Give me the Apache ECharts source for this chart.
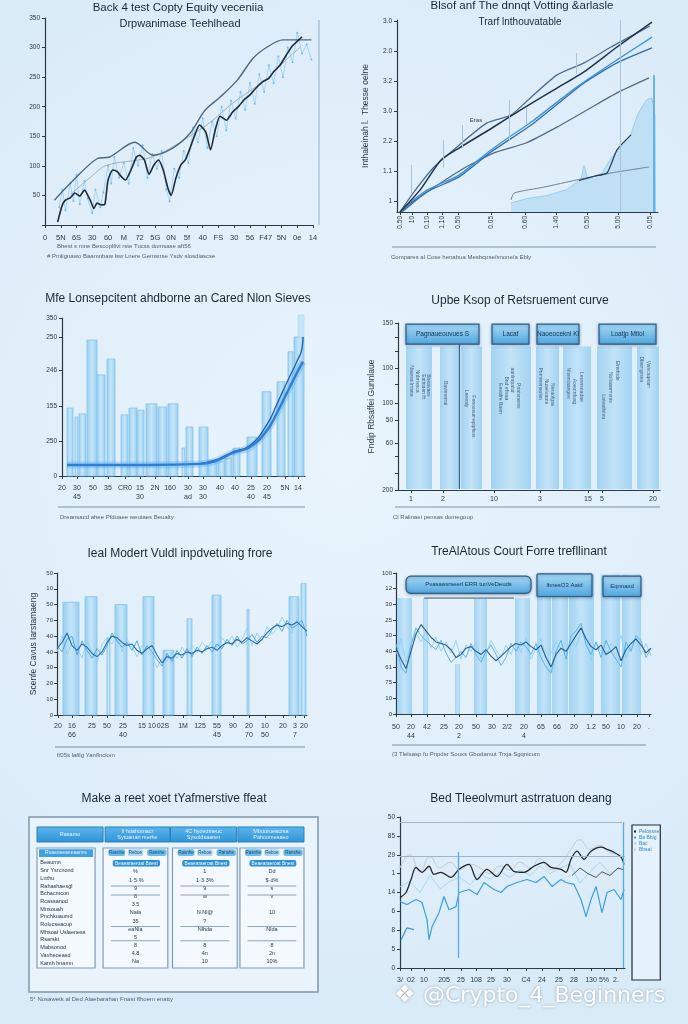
<!DOCTYPE html>
<html><head><meta charset="utf-8">
<script src="https://cdn.jsdelivr.net/npm/echarts/dist/echarts.min.js"></script>
<style>html,body{margin:0;padding:0;background:#e4f1fa;}#c{width:688px;height:1024px;}</style>
</head><body><div id="c"></div>
<script>
const FONT='"Liberation Sans", Arial, sans-serif';
const AX='#2c3a48', LBL='#2b3845', NOTE='#4d5e6e';

// ---------- Panel 1 : equity curve ----------
const p1XLabels=['0','5N','6S','30','60','M','72','5G','0N','5f','40','FS','30','56','F47','5N','0e','14'];
const p1Equity=[[0.8,5],[1.1,34],[1.3,42],[1.6,46],[1.9,54],[2.2,49],[2.5,59],[2.9,40],[3.1,28],[3.3,37],[3.6,34],[3.8,35],[4.0,76],[4.3,93],[4.6,90],[4.8,83],[5.1,76],[5.5,96],[5.8,115],[6.0,118],[6.3,110],[6.6,86],[6.9,101],[7.2,110],[7.5,93],[7.8,62],[8.0,50],[8.3,79],[8.6,101],[8.9,110],[9.2,130],[9.5,152],[9.8,169],[10.2,157],[10.5,127],[10.8,161],[11.1,184],[11.5,177],[11.9,191],[12.3,201],[12.6,211],[13.0,220],[13.4,232],[13.8,242],[14.2,248],[14.5,259],[14.9,270],[15.3,287],[15.7,303],[16.1,313],[16.3,318]];
const p1Trend=[[0.6,42],[1.7,73],[3.3,112],[4.1,115],[5.7,140],[6.85,118],[8.1,130],[9.2,155],[10.15,194],[11.1,216],[12.2,245],[13.2,282],[14.1,301],[15.1,313],[16.2,313],[16.9,313]];
const p1Mid=[[1.6,51],[2.9,81],[3.9,101],[6.8,115],[9.0,147],[10.5,174],[11.9,206],[14.1,248],[15.4,282],[16.2,301]];
const p1Noise=[[0.9,30],[1.1,60],[1.3,25],[1.6,70],[1.8,40],[2.0,85],[2.2,35],[2.5,75],[2.7,45],[3.0,20],[3.2,60],[3.5,30],[3.7,55],[4.0,100],[4.2,70],[4.4,115],[4.7,80],[5.0,105],[5.3,70],[5.6,130],[5.9,100],[6.2,135],[6.5,80],[6.8,120],[7.1,95],[7.4,125],[7.7,60],[7.9,40],[8.2,95],[8.5,80],[8.8,125],[9.1,105],[9.4,165],[9.7,140],[10.0,180],[10.3,130],[10.6,175],[10.9,150],[11.2,200],[11.5,160],[11.8,210],[12.1,180],[12.4,225],[12.7,195],[13.0,240],[13.3,205],[13.6,255],[13.9,225],[14.2,270],[14.5,240],[14.8,285],[15.1,250],[15.4,300],[15.7,275],[16.0,325],[16.3,290],[16.6,305],[16.9,280]];

// ---------- Panel 2 : fanning lines ----------
const p2XPos=[0.3,1.5,3.0,4.5,6.1,9.4,12.8,15.9,19.0,22.1,25.3];
const p2XLabels=['0.50','10','0.10','1.10','0.50','0.05','0.60','1.40','0.50','5.00','0.05'];
const p2YPos=[0.37,1.37,2.37,3.37,4.37,5.37,6.37];
const p2YLabels=['1','1.1','2.2','3.0','3.2','2.0','3.0'];
const p2LineA=[[0.3,0],[2.3,0.73],[4.4,1.73],[6.2,2.13],[9.5,2.8],[12.7,3.47],[16,4.13],[18.7,4.67],[22,5.5],[25.5,6.33]];
const p2LineB=[[0.3,0],[1.7,0.67],[3.7,1.5],[6,2.17],[9,2.97],[11.4,3.23],[12.9,3.67],[16,4.57],[18.7,4.97],[21.4,5.5],[24,5.97],[25.3,6.2]];
const p2LineC=[[0.5,0.1],[3,0.73],[6.2,1.23],[9.4,2.07],[13.7,3.07],[18,4.17],[22,5.07],[25.5,5.83]];
const p2LineD=[[0.5,0],[3,0.67],[6.2,1.17],[9.4,2.0],[13.7,2.97],[18.7,4.3],[22,4.97],[25.5,5.47]];
const p2LineE=[[0.3,0],[1.4,0.3],[6.4,1.4],[9.7,1.97],[12.9,2.3],[16,2.83],[19,3.4],[22,3.97],[25.2,4.47]];
const p2LineF=[[11.4,0.4],[11.7,0.63],[14.7,0.83],[18,1.07],[21.4,1.3],[25.2,1.5]];
const p2LineG=[[18.2,1.05],[19.8,1.2],[21,1.3],[22,2.07],[23.4,2.57]];
const p2Area=[[11.4,0.3],[13,0.45],[15,0.55],[17,0.75],[18.4,1.1],[18.7,1.55],[19.1,1.1],[20.5,1.3],[21.4,1.8],[22.5,2.2],[23.4,2.6],[24,3.2],[24.5,3.5],[25,3.75],[25.5,3.8],[25.8,3.2],[25.85,0]];

// ---------- Panel 3 : bars + curve ----------
const p3XPos=[0,1.5,3.1,4.6,6.3,7.8,9.3,10.8,12.6,14.1,15.8,17.3,18.9,20.5,22.3,23.6];
const p3XLabels=['20','30\n45','50','35','CR0','15\n30','2N','160','30\nad','30\n30','40','40','25\n40','20\n45','5N','14'];
const p3YPos=[0,66,133,200,264,300];
const p3YLabels=['0','250','155','246','250','350'];
const p3Bars=[[0.5,1.1,129],[1.3,1.6,112],[1.7,2.4,118],[2.5,3.5,258],[3.5,4.3,192],[4.5,5.3,222],[5.9,6.6,116],[6.7,7.5,129],[7.5,8.2,125],[8.4,9.5,137],[9.6,10.5,131],[10.6,11.6,137],[12.0,12.3,53],[12.4,13.1,93],[13.7,14.6,93],[14.6,15.5,30],[15.6,16.3,27],[16.3,17.0,34],[17.1,17.8,53],[18.5,19.5,74],[20.0,20.9,160],[21.5,22.3,179],[22.6,23.1,236],[23.2,24.2,264]];
const p3BarTip=[[23.6,24.2,306]];
const p3Flow=[[0.5,21],[3.8,21],[8.8,21],[13.8,23],[15.3,28],[17.1,44],[18.8,55],[20.5,87],[21.5,120],[22.5,158],[23.5,196],[24.1,217]];
const p3Fast=[[13.8,24],[15.3,30],[17.1,46],[18.8,58],[20.5,98],[21.5,137],[22.5,178],[23.5,218],[24.0,242],[24.1,264]];

// ---------- Panel 4 : bands ----------
const p4XPos=[1.3,4.5,9.6,14.2,19.0,20.4,25.5];
const p4XLabels=['1','2','10','3','15','5','20'];
const p4YPos=[0,42,63,78,109,150];
const p4YLabels=['200','60','50','100','100','150'];
const p4Bands=[[0.8,3.4],[4.2,6.1],[6.3,8.4],[9.3,13.3],[13.8,16.1],[16.5,19.3],[19.9,23.4],[23.9,26.1]];
const p4Boxes=[[0.8,8.1,'Pagnaueouvues S'],[9.4,13.1,'Lacaf'],[13.9,18.1,'Naoeocekni Kl'],[20.1,25.8,'Loatjp Mtlol']];
const p4Notes=[[1.3,112,'Naorsa lmane'],[1.9,108,'Nnbrtsnca'],[2.5,104,'Eatlnaen ftt'],[3.0,104,'Bneavaes'],[4.7,98,'Bavnnerrai'],[6.8,90,'Leeealy'],[7.5,85,'Feeoosumepipfsos'],[10.2,96,'Eeeafre Baen'],[10.8,102,'Bnd eftsaa'],[11.4,110,'aanlnrpatur'],[12.0,96,'Pnatsneres'],[14.2,110,'Pnmnrenaolsn'],[14.8,100,'Nuaeloaate'],[15.4,96,'Neraofgas'],[17.0,110,'Ntsentaaegee'],[17.6,100,'Aoeutnfoag'],[18.3,106,'Lessnsnadae'],[20.5,86,'Lateatfntsa'],[21.2,106,'Noltaanmsnrs'],[21.9,116,'Elnehtde'],[24.3,120,'Dbemgrseo'],[25.0,116,'Vaiscaqeam']];

// ---------- Panel 5 : bars + wiggly lines ----------
const p5XPos=[0.1,1.5,3.5,5.0,6.6,8.5,9.5,10.6,12.6,14.3,16.0,17.6,19.2,20.8,22.6,23.8,24.7];
const p5XLabels=['20','16\n66','25','50','25\n40','15','10','02S','1M','125','55\n45','90','20\n70','10\n50','20','3\n7','20'];
const p5YLabels=['0','10','20','30','40','40','70','50','10','50'];
const p5Bars=[[0.6,2.2,71.5],[2.8,4.0,75],[5.0,5.3,49],[5.8,7.0,70],[8.6,9.7,75],[10.6,11.7,41],[13.0,13.5,61],[15.5,16.4,76],[19.0,19.2,67],[23.2,24.2,75],[24.4,24.9,83.5]];
const p5Main=[42,46,52,44,41,45,43,39,37,40,46,50,49,46,44,45,41,39,42,44,38,33,37,36,39,38,40,39,41,40,42,43,41,44,46,45,48,46,49,47,45,48,52,55,57,56,58,57,59,56,53];
const p5Mid=[44,40,48,50,38,47,41,36,42,38,44,52,47,43,46,41,47,38,44,40,35,31,39,34,41,36,42,37,43,39,44,40,45,42,48,44,50,45,47,51,46,50,49,54,58,53,60,55,57,60,50];
const p5Light=[40,50,38,46,43,36,47,40,33,45,49,45,52,40,48,43,37,44,41,37,30,36,34,40,36,43,38,44,40,46,42,47,43,49,45,50,43,48,55,44,52,47,56,51,55,62,56,52,61,54,57];

// ---------- Panel 6 : bands + lines ----------
const p6XPos=[0,1.5,3.1,4.8,6.3,8.0,9.6,11.1,12.8,14.5,16.1,17.8,19.5,21.0,22.5,24.1,25.3];
const p6XLabels=['50','20\n44','42','25','20\n2','50','30','2/2','20\n4','65','66','20','1.2','50','10','20','.'];
const p6YLabels=['0','10','75','61','40','30','25','30','12','100'];
const p6Bands=[[0.1,1.6,74],[2.7,3.2,74],[5.9,6.4,32],[7.8,9.1,73.5],[11.9,13.4,74],[14.1,15.5,89],[15.6,17.2,89],[17.3,19.8,89],[20.5,22.4,89],[22.6,24.5,89]];
const p6Boxes=[[1.0,13.5,77,88,'Pvasaasrseerl ERR tunVeDeuds',5],[14.1,19.6,75,89.5,'lbnesO3 Aaid',1],[20.7,24.5,75,88,'Eqnnaxd',1]];
const p6Main=[42,35,29,40,51,57,53,49,46,45,44,41,36,38,42,43,40,38,41,37,34,37,40,43,45,44,46,43,41,44,36,30,38,42,40,45,50,55,48,43,41,44,38,40,43,34,41,45,48,44,39,42];
const p6Light=[45,30,26,44,55,50,47,44,41,47,39,33,36,40,36,45,38,33,40,44,38,31,36,45,40,46,43,38,45,36,30,26,40,47,35,50,53,58,44,38,46,36,47,40,35,30,46,40,50,47,36,42];
const p6Cyan=[38,48,33,44,52,46,53,42,49,40,46,39,47,35,44,40,46,35,38,47,41,36,44,38,47,39,49,35,42,48,36,39,46,42,38,47,43,52,49,34,46,40,37,45,42,50,36,43,48,38,45,37];

// ---------- Panel 7 : table ----------
const tblHeaders=['Rasamo','Il hoahomacr\nSytuanan merhe','4C hyovomeuc\nSysoldsaaren','Mboorueacrsa\nPahoomesaeo'];
const tblLeftHead='Ruasneeaneaanns';
const tblRowLabels=['Beaumn','Snr Ysrcnond','Lnrhu','Rahashaesgl','Bchacmcon','Rcassanod','Mnsouah','Pnchkuaumd','Rolucseacup','MhsoaI Uslaeness','Rsarskt','Mabsonod','Vavheoeasd','Kamh hnamn'];
const tblPills=['Rasnhe','Reboe','Ranshe'];
const tblDarkPill='Beaearaeroat Bnest';
const tblCol2=['%','·1·5·%','9','8','3.5','Nala','35','eaNla','5','8','4.8','Na'];
const tblCol3=['1','1·3·3%','9','w','','N.Nl@','?','Nlhda','','8','4n','10'];
const tblCol4=['Dd','$·d%','s','v','','10','','Nlda','','8','2n','10%'];
const tblSepV=[9.2,10.4,14.6,16.5];

// ---------- Panel 8 : lines + legend ----------
const p8XPos=[0,1.1,2.4,4.4,6.1,7.6,9.1,10.7,12.6,14.2,15.9,17.4,19.1,20.4,21.6];
const p8XLabels=['3/','02','10','205','25','108','25','30','C4','24','25','28','130','5%','2.'];
const p8YLabels=['0','5','8','6','14','1','29','85','50'];
const p8Black=[[0,3.73],[0.6,4.0],[1.1,4.69],[1.6,5.33],[2.2,5.07],[2.9,5.39],[3.4,4.96],[4.1,5.07],[5.1,4.8],[5.9,5.23],[6.9,5.49],[7.7,4.69],[8.7,5.23],[9.7,4.85],[10.7,5.49],[11.4,5.12],[12.4,5.07],[13.4,5.39],[14.4,5.6],[15.1,5.33],[16.1,5.23],[16.6,5.07],[17.1,5.76],[17.7,6.19],[18.4,5.76],[19.1,6.19],[20.1,6.4],[20.7,6.29],[21.4,6.13],[22.1,5.87],[22.4,5.49]];
const p8Black2=[[17.2,4.9],[18.0,5.3],[18.8,5.0],[19.6,4.8],[20.2,5.1],[21.0,4.9],[21.8,5.3],[22.4,5.2]];
const p8Blue=[[0,3.52],[0.7,3.36],[1.6,3.63],[2.2,3.47],[2.7,2.56],[2.9,1.49],[3.2,2.19],[3.9,2.93],[4.4,3.79],[4.9,3.09],[5.6,3.25],[5.9,4.0],[6.9,4.16],[7.7,3.89],[8.4,4.53],[9.4,4.16],[10.1,4.0],[10.7,4.32],[11.7,4.53],[12.7,4.69],[13.6,4.53],[14.4,4.85],[15.2,4.32],[16.1,4.69],[16.6,4.53],[17.4,4.43],[18.1,3.63],[18.6,2.72],[19.1,3.63],[19.6,4.32],[20.2,2.93],[20.7,4.0],[21.4,4.16],[22.1,3.63],[22.4,4.16]];
const p8BlueStub=[[0.1,1.49],[0.7,2.13],[1.4,2.03]];
const p8Gray=[[0,5.3],[1,6.0],[2,5.1],[3,5.9],[4,5.3],[5,5.6],[6,5.2],[7,5.5],[8,5.3],[9,5.0],[10,5.4],[11,5.2],[12,5.6],[13,5.3],[14,5.8],[15,5.2],[16,5.5],[17,6.2],[18,6.8],[19,6.3],[20,6.5],[21,6.1],[22,6.0],[22.4,5.7]];
const p8Sky=[[0,4.3],[1,4.6],[2,4.0],[3,4.9],[4,4.2],[5,4.6],[6,4.8],[7,4.4],[8,5.0],[9,4.7],[10,5.1],[11,4.8],[12,5.2],[13,4.9],[14,5.4],[15,5.0],[16,5.3],[17,5.5],[18,4.5],[19,5.1],[20,5.6],[21,5.0],[22,5.3]];
const p8Legend=['Pelossse','Ba Bhig','Bac','Bbsai'];

// ---------- texts ----------
const titleTexts=[
 ['Back 4 test Copty Equity veceniia',178,9,11.5],['Drpwanimase Teehlhead',180,25,11],
 ['Blsof anf The dnnqt Votting &arlasle',522,7,11.5],['Trarf lnthouvatable',520,23,10],
 ['Mfe Lonsepcitent ahdborne an Cared Nlon Sieves',178,300,12],
 ['Upbe Ksop of Retsruement curve',520,302,12],
 ['Ieal Modert Vuldl inpdvetuling frore',180,555,12],
 ['TreAlAtous Court Forre trefllinant',519,553,12],
 ['Make a reet xoet tYafmerstive ffeat',174,800,12],
 ['Bed Tleeolvmurt astrratuon deang',521,800,12]];
const noteTexts=[
 ['Bhest s mne Bescoplfivi rste Tucss domsase aft56',57,247],
 ['# Pmlignawo Baamnbaw lsw Lnere Gemsnse Ysdv slosdiascse',47,257],
 ['Compares al Cose henabua Mesbcpse/snone/a Ebly',391,258],
 ['Dreansacd ahee Pfduaee weutaes Beualty',60,518],
 ['Cl Ralinaei pensas domegoup',393,518],
 ['f/05s lafilg Yanflnclom',57,756],
 ['(3 Tlelsasp fu Pnpdsr Souxs Gbodamut Trxja Sgqnicum',392,755],
 ['5° Nosawetk al Ded Alaebarahan Fnast ffhoem enatty',30,1000]];

// ================= build =================
const grids=[],xAxes=[],yAxes=[],series=[];
function merge(a,b){for(const k in b){const v=b[k];if(v&&typeof v==='object'&&!Array.isArray(v)&&a[k]&&typeof a[k]==='object'&&!Array.isArray(a[k]))merge(a[k],v);else a[k]=v;}return a;}
function addGrid(l,t,w,h){grids.push({left:l,top:t,width:w,height:h});return grids.length-1;}
function axis(gi,type,extra){return merge({type,gridIndex:gi,splitLine:{show:false},
  axisLine:{show:true,onZero:false,lineStyle:{color:AX,width:1.2}},
  axisTick:{show:true,length:3,lineStyle:{color:AX}},
  axisLabel:{fontSize:7,color:LBL,fontFamily:FONT,margin:5}},extra||{});}
function addX(o){xAxes.push(o);return xAxes.length-1;}
function addY(o){yAxes.push(o);return yAxes.length-1;}
function custom(pos,labels){return {customValues:pos,formatter:v=>{const i=pos.indexOf(v);return i<0?'':labels[i];}};}
function line(xi,yi,data,color,width,extra){return merge({type:'line',xAxisIndex:xi,yAxisIndex:yi,data,symbol:'none',lineStyle:{color,width},itemStyle:{color},z:3,silent:true},extra||{});}
function shapes(xi,yi,items,z){return {type:'custom',xAxisIndex:xi,yAxisIndex:yi,clip:false,z:z||2,silent:true,
  data:items.map((_,i)=>[i]),
  renderItem:(params,api)=>{const it=items[params.dataIndex];
    if(it.k==='text'){const p=api.coord([it.x,it.y]);
      return {type:'text',x:p[0],y:p[1],rotation:it.rot||0,style:{text:it.text,fill:it.color||'#1e2f40',fontSize:it.fs||6,fontFamily:FONT,fontWeight:it.fw||'normal',align:it.align||'center',verticalAlign:it.va||'middle'}};}
    const a=api.coord([it.x0,it.y0]),b=api.coord([it.x1,it.y1]);
    if(it.k==='line')return {type:'line',shape:{x1:a[0],y1:a[1],x2:b[0],y2:b[1]},style:{stroke:it.stroke,lineWidth:it.lw||1}};
    const x=Math.min(a[0],b[0]),y=Math.min(a[1],b[1]),w=Math.abs(b[0]-a[0]),h=Math.abs(b[1]-a[1]);
    const ch=[{type:'rect',shape:{x,y,width:w,height:h,r:it.r||0},style:{fill:it.fill,stroke:it.stroke||null,lineWidth:it.lw||0,shadowBlur:it.sb||0,shadowColor:it.sc||'rgba(0,0,0,0)',shadowOffsetY:it.soy||0}}];
    if(it.text)ch.push({type:'text',x:x+w/2,y:y+h/2,style:{text:it.text,fill:it.color||'#15324f',fontSize:it.fs||6,fontFamily:FONT,fontWeight:it.fw||'normal',align:'center',verticalAlign:'middle',lineHeight:(it.fs||6)+1}});
    return {type:'group',children:ch};}};}
const G=echarts.graphic;
const hGrad=(a,b)=>new G.LinearGradient(0,0,1,0,[{offset:0,color:a},{offset:0.5,color:b},{offset:1,color:a}]);
const vGrad=(a,b)=>new G.LinearGradient(0,0,0,1,[{offset:0,color:a},{offset:1,color:b}]);
const barFill=hGrad('#96cdf0','#c6e6f9');
const bandFill=hGrad('#a2d3f2','#c2e3f8');
const boxFill=vGrad('#a9dbf7','#4fa5de');

// ----- Panel 1
{const g=addGrid(45,18,268,207);
 const xi=addX(axis(g,'value',{min:0,max:17,interval:1,axisLabel:{fontSize:7.5,margin:9,formatter:v=>p1XLabels[Math.round(v)]||''}}));
 const yi=addY(axis(g,'value',{min:0,max:350,interval:50,axisLabel:{fontSize:6.5,formatter:v=>v===0?'':String(v)}}));
 series.push(line(xi,yi,p1Noise,'#8ccaef',0.7,{symbol:'circle',symbolSize:2,showSymbol:true,itemStyle:{color:'#74bae8'},z:2}));
 series.push(line(xi,yi,p1Mid,'#a3b0bc',1,{smooth:0.3}));
 series.push(line(xi,yi,p1Trend,'#4f6880',1.4,{smooth:0.3}));
 series.push(line(xi,yi,p1Equity,'#1f2b38',1.6,{smooth:0.2}));}

// ----- Panel 2
{const g=addGrid(397,20,261,192);
 const xi=addX(axis(g,'value',{min:0,max:26.1,axisTick:{customValues:p2XPos},axisLabel:merge({rotate:90,fontSize:6.5,margin:4},custom(p2XPos,p2XLabels))}));
 const yi=addY(axis(g,'value',{min:0,max:6.4,name:'Inthaleinah l.  Thesse oelne',nameLocation:'middle',nameGap:27,nameRotate:90,nameTextStyle:{fontSize:8.5,color:LBL,fontFamily:FONT},axisTick:{customValues:p2YPos},axisLabel:merge({fontSize:6.5},custom(p2YPos,p2YLabels))}));
 series.push(line(xi,yi,p2Area,'#8cc8ee',0.8,{areaStyle:{color:'rgba(140,200,238,0.55)'},z:2,
   markLine:{silent:true,symbol:['none','none'],label:{show:false},data:[
     [{coord:[22.3,0]},{coord:[22.3,6.4]}],
     [{coord:[1.4,0.63]},{coord:[1.4,1.57]}],[{coord:[4.6,1.47]},{coord:[4.6,2.4]}],[{coord:[6.5,2.13]},{coord:[6.5,2.9]}],
     [{coord:[11.2,2.4]},{coord:[11.2,3.73]}],[{coord:[12.9,2.9]},{coord:[12.9,3.5]}],[{coord:[17.9,4.6]},{coord:[17.9,5.3]}]],
     lineStyle:{color:'#a9c3d6',width:1,type:'solid'}}}));
 series.push(line(xi,yi,[[25.7,0],[25.7,4.57]],'#4aa9e6',1.6));
 series.push(line(xi,yi,p2LineF,'#6f8396',1,{smooth:0.2}));
 series.push(line(xi,yi,p2LineG,'#2c3e55',1.2,{smooth:0.2}));
 series.push(line(xi,yi,p2LineE,'#4f6a86',1.2,{smooth:0.2}));
 series.push(line(xi,yi,p2LineD,'#2f6fa8',1.3,{smooth:0.2}));
 series.push(line(xi,yi,p2LineC,'#3d92da',1.3,{smooth:0.2}));
 series.push(line(xi,yi,p2LineB,'#4d6f8f',1.3,{smooth:0.2}));
 series.push(line(xi,yi,p2LineA,'#23344a',1.5,{smooth:0.2}));
 series.push(shapes(xi,yi,[{k:'text',x:7.9,y:3.05,text:'Eras',fs:6,color:'#2c3e55'}],4));}

// ----- Panel 3
{const g=addGrid(62,318,243,158);
 const xi=addX(axis(g,'value',{min:0,max:24.3,axisTick:{customValues:p3XPos},axisLabel:merge({fontSize:7,margin:8,lineHeight:9},custom(p3XPos,p3XLabels))}));
 const yi=addY(axis(g,'value',{min:0,max:300,axisTick:{customValues:p3YPos},axisLabel:merge({fontSize:6.5},custom(p3YPos,p3YLabels))}));
 const items=p3Bars.map(b=>({k:'rect',x0:b[0],x1:b[1],y0:0,y1:b[2],fill:barFill,stroke:'#86c4ec',lw:0.8}))
   .concat(p3BarTip.map(b=>({k:'rect',x0:b[0],x1:b[1],y0:264,y1:b[2],fill:'rgba(190,226,248,0.8)',stroke:'#b0daf4',lw:0.6})));
 series.push(shapes(xi,yi,items,1));
 series.push(line(xi,yi,p3Flow,'rgba(90,165,235,0.35)',7,{smooth:true}));
 series.push(line(xi,yi,p3Fast,'#1d5fae',1.3,{smooth:true}));
 series.push(line(xi,yi,p3Flow,'#2c7fd6',2.4,{smooth:true}));}

// ----- Panel 4
{const g=addGrid(398,323,262,167);
 const xi=addX(axis(g,'value',{min:0,max:26.2,axisTick:{customValues:p4XPos},axisLabel:merge({fontSize:7,margin:6},custom(p4XPos,p4XLabels))}));
 const yi=addY(axis(g,'value',{min:0,max:150,name:'Fndip Rbsaffei Gunnlaue',nameLocation:'middle',nameGap:22,nameRotate:90,nameTextStyle:{fontSize:8.5,color:LBL,fontFamily:FONT},
   axisTick:{customValues:[0,15,30,42,63,78,95,109,125,137,150]},axisLabel:merge({fontSize:6.5},custom(p4YPos,p4YLabels))}));
 let items=p4Bands.map(b=>({k:'rect',x0:b[0],x1:b[1],y0:1,y1:129,fill:bandFill}));
 items.push({k:'line',x0:6.15,y0:1,x1:6.15,y1:131,stroke:'#3a5f80',lw:1.2});
 items=items.concat(p4Notes.map(n=>({k:'text',x:n[0],y:n[1],text:n[2],rot:-Math.PI/2,fs:5,color:'#4a6782',align:'left'})));
 items=items.concat(p4Boxes.map(b=>({k:'rect',x0:b[0],x1:b[1],y0:131,y1:149,fill:boxFill,stroke:'#2e5c82',lw:1.2,text:b[2],fs:6.5,color:'#15324f',sb:3,sc:'rgba(0,40,80,0.35)',soy:1})));
 series.push(shapes(xi,yi,items,1));}

// ----- Panel 5
{const g=addGrid(57,573,250,142);
 const xi=addX(axis(g,'value',{min:0,max:25,axisTick:{customValues:p5XPos},axisLabel:merge({fontSize:7,margin:7,lineHeight:9},custom(p5XPos,p5XLabels))}));
 const xc=addX({type:'category',gridIndex:g,show:false,boundaryGap:false,data:p5Main.map((_,i)=>i)});
 const yi=addY(axis(g,'value',{min:0,max:90,interval:10,name:'Scenfe Cavus Iarstamaeng',nameLocation:'middle',nameGap:19,nameRotate:90,nameTextStyle:{fontSize:8.5,color:LBL,fontFamily:FONT},axisLabel:{fontSize:6,margin:4,formatter:v=>p5YLabels[Math.round(v/10)]}}));
 series.push(shapes(xi,yi,p5Bars.map(b=>({k:'rect',x0:b[0],x1:b[1],y0:0,y1:b[2],fill:barFill,stroke:'#86c4ec',lw:0.8})),1));
 series.push(line(xc,yi,p5Light,'#8fd0f3',0.9));
 series.push(line(xc,yi,p5Mid,'#44a3df',0.9));
 series.push(line(xc,yi,p5Main,'#276aa6',1.1));}

// ----- Panel 6
{const g=addGrid(396,573,255,141);
 const xi=addX(axis(g,'value',{min:0,max:25.5,axisTick:{customValues:p6XPos},axisLabel:merge({fontSize:7,margin:9,lineHeight:9},custom(p6XPos,p6XLabels))}));
 const xc=addX({type:'category',gridIndex:g,show:false,boundaryGap:false,data:p6Main.map((_,i)=>i)});
 const yi=addY(axis(g,'value',{min:0,max:90,interval:10,axisLabel:{fontSize:6,margin:4,formatter:v=>p6YLabels[Math.round(v/10)]}}));
 let items=p6Bands.map(b=>({k:'rect',x0:b[0],x1:b[1],y0:0,y1:b[2],fill:bandFill}));
 items.push({k:'line',x0:2.8,y0:74,x1:11.8,y1:74,stroke:'#3d5770',lw:1});
 items=items.concat(p6Boxes.map(b=>({k:'rect',x0:b[0],x1:b[1],y0:b[2],y1:b[3],r:b[5],fill:boxFill,stroke:'#2e5c82',lw:1.2,text:b[4],fs:6,color:'#15324f',sb:3,sc:'rgba(0,40,80,0.35)',soy:1})));
 series.push(shapes(xi,yi,items,1));
 series.push(line(xc,yi,p6Cyan,'#8ad3f5',0.9));
 series.push(line(xc,yi,p6Light,'#4fb0e8',0.9));
 series.push(line(xc,yi,p6Main,'#2a5d8f',1.1));}

// ----- Panel 7 (table)
{const g=addGrid(29,817,289,175);
 const xi=addX({type:'value',gridIndex:g,show:false,min:-0.12,max:4.21});
 const yi=addY({type:'value',gridIndex:g,show:false,min:0,max:23.33,inverse:true});
 const it=[];
 it.push({k:'rect',x0:-0.12,x1:4.21,y0:0,y1:23.33,fill:'rgba(238,247,253,0.7)',stroke:'#7f97ad',lw:1.5});
 const hx=[[0,0.99],[1.02,1.99],[2.0,2.99],[3.01,4.0]];
 tblHeaders.forEach((t,i)=>it.push({k:'rect',x0:hx[i][0],x1:hx[i][1],y0:1.33,y1:3.33,fill:vGrad('#5db6ec','#2e93d6'),stroke:'#2a7fbf',lw:1,text:t,fs:5.5,color:'#e6f4fd'}));
 it.push({k:'rect',x0:0,x1:0.87,y0:4.13,y1:20.13,fill:'#f3f9fe',stroke:'#7f9cb5',lw:1.2});
 it.push({k:'rect',x0:0.03,x1:0.84,y0:4.3,y1:5.33,fill:'#3ea2e2',text:tblLeftHead,fs:5,color:'#e8f5fe'});
 tblRowLabels.forEach((t,i)=>it.push({k:'text',x:0.05,y:6.13+i*1.026,text:t,fs:5.5,color:'#1e2f40',align:'left'}));
 const cx=[[0.99,1.96],[2.03,3.0],[3.04,4.0]];
 const cols=[tblCol2,tblCol3,tblCol4];
 cx.forEach((c,ci)=>{const w=c[1]-c[0];
   it.push({k:'rect',x0:c[0],x1:c[1],y0:4.13,y1:20.13,fill:'#f3f9fe',stroke:'#7f9cb5',lw:1.2});
   [[0.08,0.34],[0.38,0.62],[0.68,0.98]].forEach((p,pi)=>it.push({k:'rect',x0:c[0]+w*p[0],x1:c[0]+w*p[1],y0:4.3,y1:5.2,r:2,fill:pi===1?'#a9d8f5':'#6dbdec',text:tblPills[pi],fs:4.5,color:'#1b4a70'}));
   it.push({k:'rect',x0:c[0]+w*0.15,x1:c[0]+w*0.88,y0:5.73,y1:6.6,r:2,fill:'#2a8fd6',text:tblDarkPill,fs:4.8,color:'#ffffff'});
   cols[ci].forEach((t,ri)=>{if(t)it.push({k:'text',x:c[0]+w/2,y:7.33+ri*1.09,text:t,fs:5.5,color:'#25394d'});});
   tblSepV.forEach(v=>it.push({k:'line',x0:c[0]+w*0.12,x1:c[0]+w*0.88,y0:v,y1:v,stroke:'#7390a8',lw:0.8}));
 });
 series.push(shapes(xi,yi,it,1));}

// ----- Panel 8
{const g=addGrid(400,817,225,151);
 const xi=addX(axis(g,'value',{min:0,max:22.5,axisTick:{customValues:p8XPos},axisLabel:merge({fontSize:7,margin:9},custom(p8XPos,p8XLabels))}));
 const yi=addY(axis(g,'value',{min:0,max:8,interval:1,axisLabel:{fontSize:6.5,margin:5,formatter:v=>p8YLabels[Math.round(v)]}}));
 series.push(line(xi,yi,p8Gray,'#c3ccd4',1,{name:p8Legend[3],smooth:true,z:2,
   markLine:{silent:true,symbol:['none','none'],label:{show:false},data:[
     [{coord:[0,7.73]},{coord:[22.2,7.73]}],[{coord:[0,5.92]},{coord:[22.5,5.92]}]],lineStyle:{color:'#9fb4c6',width:1,type:'solid'}}}));
 series.push(line(xi,yi,p8Sky,'#9ed6f3',0.9,{name:p8Legend[2],z:2,
   markLine:{silent:true,symbol:['none','none'],label:{show:false},data:[
     [{coord:[5.8,0.53]},{coord:[5.8,6.15]}],[{coord:[9.1,0]},{coord:[9.1,8.1]}],[{coord:[14.0,0]},{coord:[14.0,8.1]}],
     [{coord:[17.4,0.2]},{coord:[17.4,8.1]}],[{coord:[22.3,0]},{coord:[22.3,7.73]}]],lineStyle:{color:'#55ace4',width:1.3,type:'solid'}}}));
 series.push(line(xi,yi,p8Blue,'#3aa0e2',1.2,{name:p8Legend[1]}));
 series.push(line(xi,yi,p8BlueStub,'#3aa0e2',1.3));
 series.push(line(xi,yi,p8Black2,'#4a5560',1));
 series.push(line(xi,yi,p8Black,'#22262b',1.3,{name:p8Legend[0],smooth:0.3}));}

const titles=titleTexts.map(t=>({text:t[0],left:t[1],top:t[2]-t[3]*0.62,textAlign:'center',padding:0,
  textStyle:{fontSize:t[3],fontWeight:'normal',color:'#1c2733',fontFamily:FONT}}))
 .concat(noteTexts.map(t=>({text:t[0],left:t[1],top:t[2]-4,padding:0,textStyle:{fontSize:6,fontWeight:'normal',color:NOTE,fontFamily:FONT}})))
 .concat([{text:'@Crypto_4_Beginners',left:423,top:985,padding:0,textStyle:{fontSize:22,fontWeight:'normal',color:'#ffffff',fontFamily:'"DejaVu Sans", sans-serif',textShadowColor:'rgba(40,60,80,0.45)',textShadowBlur:3}},
   {text:'❖',left:394,top:984,padding:0,textStyle:{fontSize:24,fontWeight:'normal',color:'#ffffff',fontFamily:'"DejaVu Sans", sans-serif',textShadowColor:'rgba(40,60,80,0.45)',textShadowBlur:3}}]);

const rule=(x1,y1,x2,y2,c,w)=>({type:'line',shape:{x1,y1,x2,y2},style:{stroke:c||'#7d93a6',lineWidth:w||1},silent:true});

const chart=echarts.init(document.getElementById('c'),null,{renderer:'canvas'});
chart.setOption({
  animation:false,
  backgroundColor:new G.RadialGradient(0.5,0.45,0.8,[{offset:0,color:'#e9f4fc'},{offset:1,color:'#daebf8'}]),
  title:titles,
  legend:{data:p8Legend,orient:'vertical',left:632,top:825,itemWidth:2,itemHeight:2,itemGap:1,selectedMode:false,
    padding:[4,1,128,1],borderColor:'#1d2c3a',borderWidth:1.2,backgroundColor:'rgba(240,248,253,0.5)',
    textStyle:{fontSize:5,color:'#2a8ad0',fontFamily:FONT,padding:[0,0,0,-2]}},
  grid:grids,xAxis:xAxes,yAxis:yAxes,series,
  graphic:[rule(319,20,319,225,'#8fb0c8',1),rule(392,247,656,247),rule(58,507,305,507),rule(395,507,660,507),rule(55,747,305,747),rule(392,745,646,745)]
});
</script></body></html>
